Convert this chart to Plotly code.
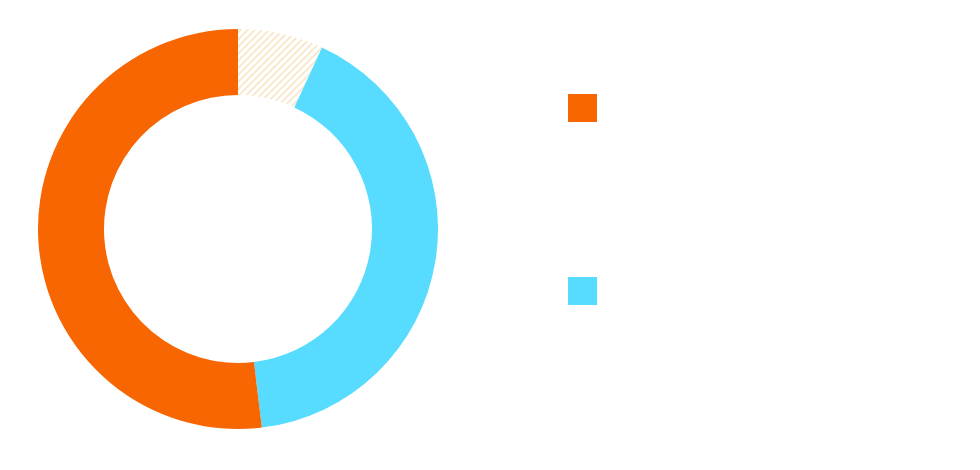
import plotly.graph_objects as go

labels = ["Remainder", "Series B", "Series A"]
values = [6.9, 41.2, 51.9]
colors = ["#FFFFFF", "#57DBFF", "#F76600"]
legend_labels = ["Series A", "Series B"]
legend_values = ["51.9%", "41.2%"]
legend_colors = ["#F76600", "#57DBFF"]

W, H = 980, 470
OFF = 8  # page body margin


def px(x):
    return (x - OFF) / W


def py(y):
    return 1 - (y - OFF) / H


fig = go.Figure()
fig.add_trace(go.Pie(
    labels=labels,
    values=values,
    sort=False,
    direction="clockwise",
    rotation=0,
    hole=0.67,
    textinfo="none",
    hoverinfo="label+percent",
    showlegend=False,
    marker=dict(
        colors=colors,
        line=dict(width=0),
        pattern=dict(
            shape=["/", "", ""],
            fgcolor=["#F8E2C0", "#57DBFF", "#F76600"],
            bgcolor=["#FFFFFF", "#57DBFF", "#F76600"],
            size=5,
            solidity=0.3,
        ),
    ),
    domain=dict(x=[px(38), px(438)], y=[py(429), py(29)]),
))

# custom legend (white text as in the reference)
legend_y = [108, 291]
for i, (lab, val) in enumerate(zip(legend_labels, legend_values)):
    yc = legend_y[i]
    fig.add_shape(type="rect", xref="paper", yref="paper",
                  x0=px(568), x1=px(597),
                  y0=py(yc + 14), y1=py(yc - 14),
                  fillcolor=legend_colors[i], line=dict(width=0))
    fig.add_annotation(xref="paper", yref="paper", x=px(625), y=py(yc),
                       xanchor="left", yanchor="middle", showarrow=False,
                       text=lab, font=dict(color="#FFFFFF", size=18, family="Roboto"))
    fig.add_annotation(xref="paper", yref="paper", x=px(625), y=py(yc + 50),
                       xanchor="left", yanchor="middle", showarrow=False,
                       text=val, font=dict(color="#FFFFFF", size=28, family="Roboto"))

fig.update_layout(
    width=W, height=H,
    margin=dict(l=0, r=0, t=0, b=0),
    paper_bgcolor="#FFFFFF",
    plot_bgcolor="#FFFFFF",
)

fig.write_html("out.html")
